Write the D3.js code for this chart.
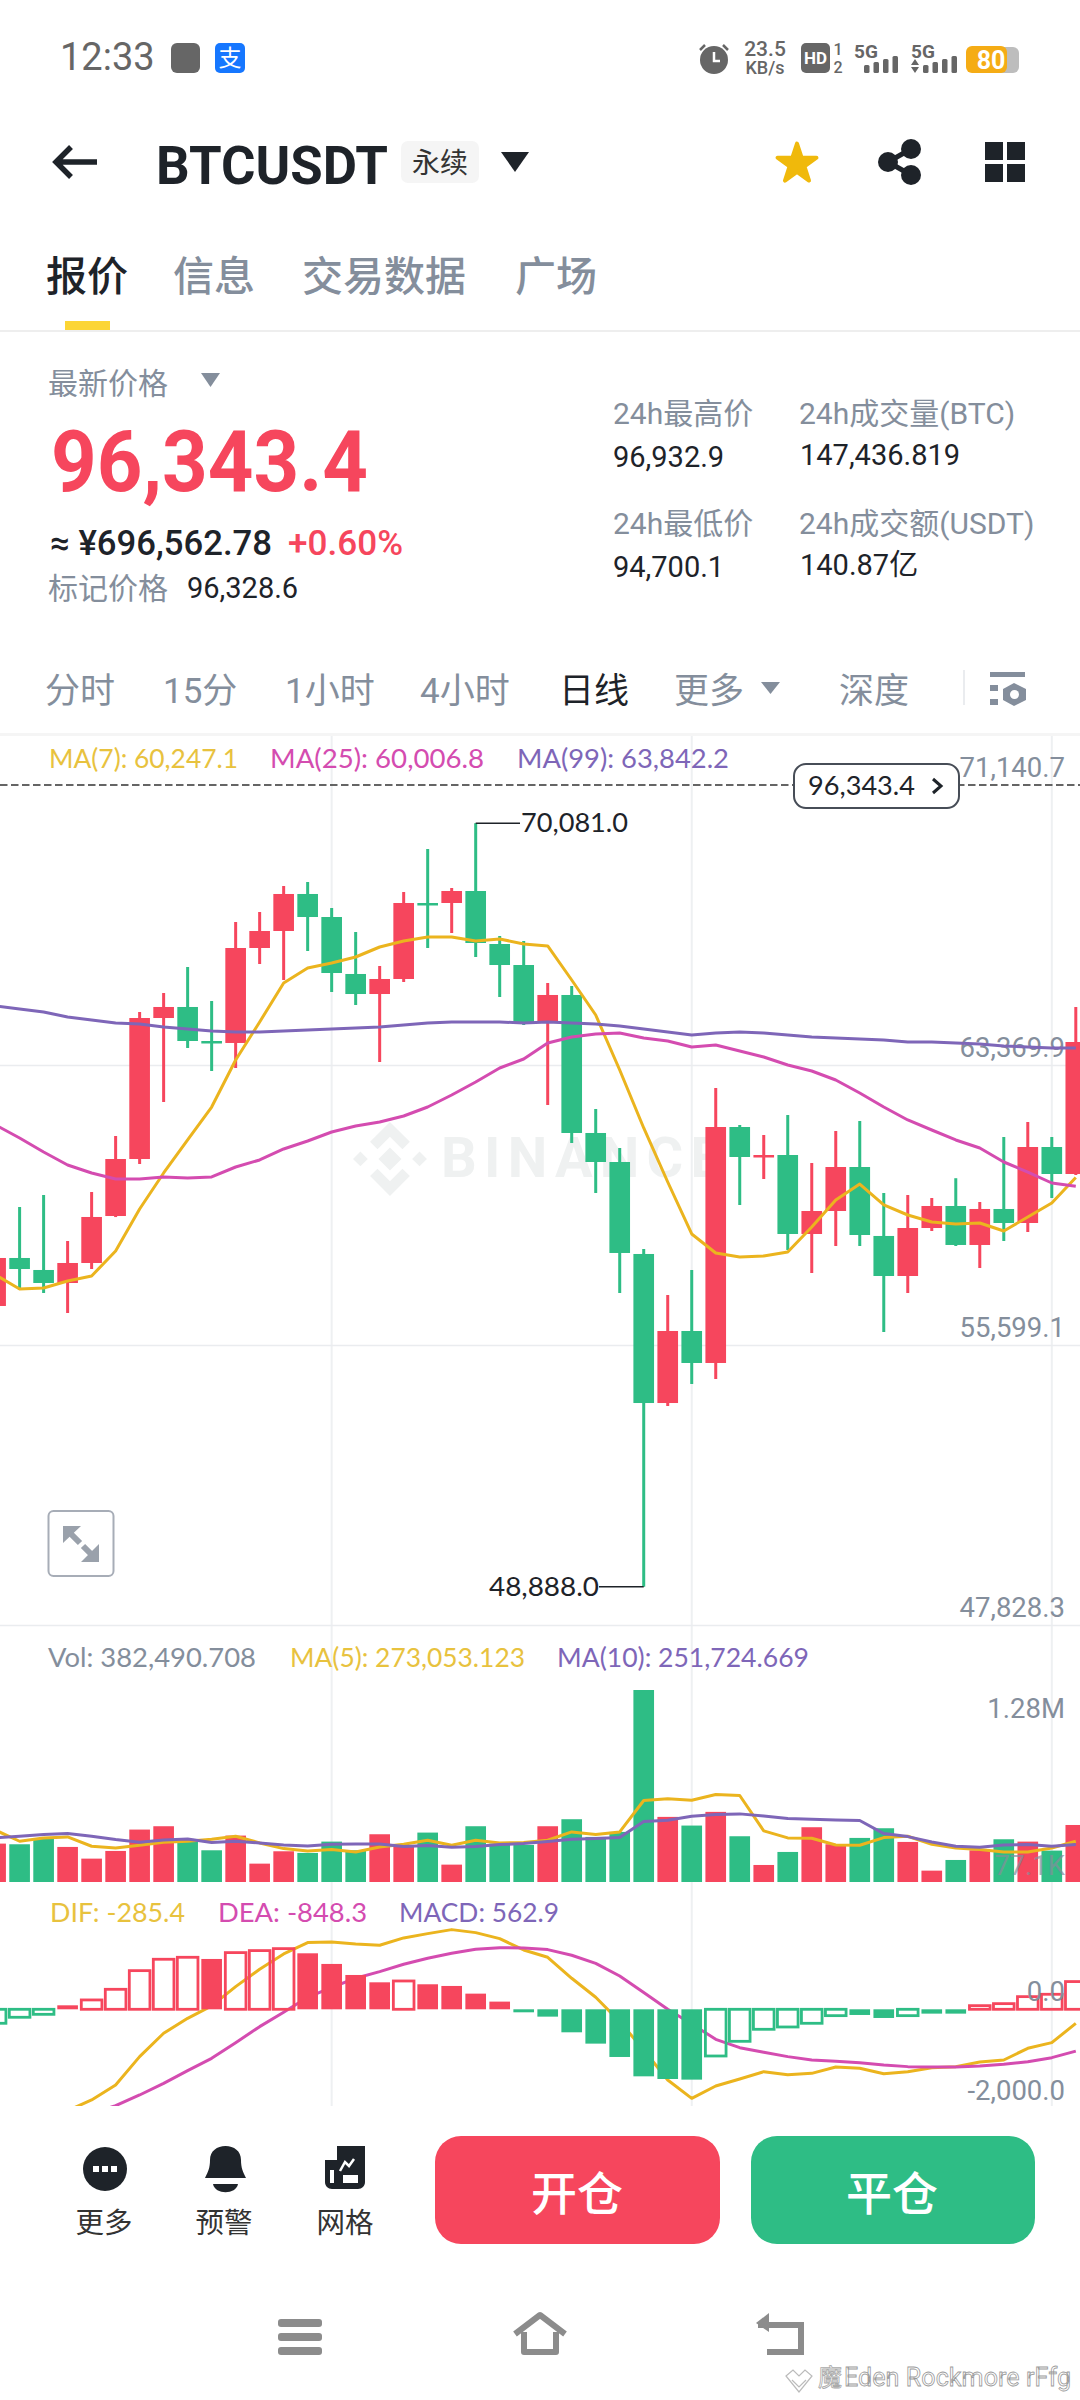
<!DOCTYPE html>
<html>
<head>
<meta charset="utf-8">
<title>BTCUSDT</title>
<script src="https://cdn.jsdelivr.net/npm/d3@7/dist/d3.min.js"></script>
<style>
  html, body { margin: 0; padding: 0; background: #fff; }
  svg { display: block; }
  text { font-family: Roboto, "Noto Sans CJK SC", sans-serif; }
  .chart-text { font-family: Lato, "Noto Sans CJK SC", sans-serif; }
</style>
</head>
<body>
<div id="chart"></div>
<script>
// Daily candles (oldest one is cut by the left edge)
const opens = [56682,58014,57681,57320,57875,59179,60761,64674,64980,64036,63981,66617,67089,68116,67477,65896,65340,65757,67866,67866,68199,66728,66145,64591,65313,61483,60678,58125,53989,55988,55100,61649,60817,60872,58680,59318,60539,58625,57514,58846,59457,58375,59374,58985,61094,60345];
const highs = [58014,59429,59762,58486,59845,61400,64841,65368,66090,65146,67339,67616,68338,68449,67727,67061,66118,68171,69365,68282,70081,66950,66811,65646,65563,62149,61067,58263,56987,57681,62732,61705,61427,61982,60650,61538,61816,59818,59762,59679,60228,59568,61372,61788,61372,64980];
const lows = [56682,57126,57042,56487,57708,59150,60623,62343,63842,63204,63287,66173,65729,66534,65396,65035,63453,65674,66617,67033,66367,65257,64480,62260,61205,59818,57042,48888,53906,54517,54656,59485,60206,58236,57597,58347,58347,55960,57042,58763,58347,57736,58486,58735,59679,60317];
const closes = [58014,57708,57320,57875,59152,60761,64674,64980,64036,63981,66617,67089,68116,67477,65923,65340,65757,67866,67811,68199,66756,66145,64563,65313,61483,60678,58153,53989,55988,55100,61649,60817,60872,58680,59318,60539,58652,57514,58846,59457,58375,59374,58985,61094,60345,64008];

// Price moving averages
const ma7 = [57542,57153,57181,57375,57514,58208,59374,60373,61289,62204,63509,64563,65646,66062,66201,66367,66645,66811,66922,66922,66811,66867,66728,66673,65729,64758,63231,61622,60123,58680,58153,58042,58069,58180,58874,59623,60067,59485,59207,59013,58957,58985,58763,59152,59540,60247.1];
const ma25 = [61705,61344,60955,60595,60373,60206,60206,60262,60234,60262,60539,60734,61039,61261,61511,61677,61788,61955,62204,62537,62898,63287,63537,63981,64147,64230,64258,64119,64036,63870,63925,63759,63592,63370,63204,62954,62593,62204,61844,61566,61289,61067,60678,60400,60095,60006.8];
const ma99 = [65007,64924,64841,64702,64619,64536,64508,64425,64369,64314,64286,64286,64314,64341,64369,64397,64425,64480,64536,64563,64563,64563,64536,64563,64536,64508,64452,64369,64286,64203,64258,64286,64258,64203,64147,64119,64092,64064,64008,64008,63981,63953,63897,63870,63842.2,63842.2];

// Volume panel
const volumes = [257600,253100,291200,235200,156800,208300,351700,374100,268800,212800,311400,123200,206100,194900,271000,212800,320300,235200,331500,116500,374100,257600,248600,374100,421100,302400,336000,1288000,436800,378600,470400,306900,114200,201600,367400,253100,295700,360600,268800,76200,147800,212800,286700,271000,210600,382490.708];
const volMa5 = [347200,273300,295700,302400,239700,228500,246400,266600,273300,286700,306900,262100,224000,208300,217300,201600,235200,253100,280000,246400,280000,262100,264300,280000,336000,318100,336000,546600,557800,548800,586900,580200,342700,295700,293400,248600,246400,297900,306900,253100,228500,217300,201600,201600,228500,273053.123];
const volMa10 = [295700,306900,318100,324800,306900,284500,266600,282200,289000,264300,273300,262100,248600,241900,253100,255400,255400,237400,244200,233000,237400,250900,257600,271000,286700,291200,297900,405400,414400,441300,452500,457000,443500,425600,421100,416600,412200,324800,304600,268800,239700,233000,248600,250900,239700,251724.669];

// MACD panel
const macdHist = [-284,-162,-102,81,190,406,785,1016,1056,1022,1151,1192,1232,1137,921,697,548,575,508,474,318,156,-61,-149,-467,-697,-968,-1361,-1415,-1428,-948,-650,-406,-359,-284,-129,-115,-176,-129,-88,-88,74,115,257,305,562.9];
const macdHollow = [1,1,1,0,1,1,1,1,1,0,1,1,1,0,0,0,0,1,0,0,0,0,0,0,0,0,0,0,0,0,1,1,1,1,1,1,0,0,1,0,0,1,1,1,1,1];
const dif = [-2654,-2485,-2281,-2058,-1841,-1537,-961,-487,-183,68,460,812,1124,1354,1368,1327,1300,1449,1537,1618,1557,1435,1205,1056,630,244,-250,-826,-1435,-1808,-1557,-1415,-1266,-1327,-1300,-1171,-1198,-1307,-1266,-1185,-1164,-1070,-1029,-792,-677,-285.4];
const dea = [-2654,-2518,-2383,-2248,-2112,-1957,-1740,-1503,-1246,-995,-677,-352,-61,244,447,630,765,914,1036,1137,1219,1252,1246,1212,1097,934,677,339,0,-298,-609,-779,-873,-961,-1029,-1056,-1083,-1131,-1164,-1171,-1171,-1151,-1117,-1063,-982,-848.3];

// Axis ticks
const priceTicks = [71140.7, 63369.9, 55599.1, 47828.3];
const volTicks = [1280000, 77100];
const volTickLabels = ['1.28M', '77.1K'];
const macdTicks = [0, -2000];
const gridCandles = [14, 29, 44];

const lastPrice = 96343.4;

// Page text
const tabs = [['报价', 46, true], ['信息', 173, false], ['交易数据', 302, false], ['广场', 515, false]];
const intervals = [['分时', 45], ['15分', 163], ['1小时', 285], ['4小时', 420], ['日线', 559], ['更多', 674], ['深度', 839]];

const RED = '#f6465d';
const GREEN = '#2ebd85';
const YELLOW = '#ebb41e';
const MAGENTA = '#d44cb0';
const PURPLE = '#7e66b8';
const GRAY = '#848e9c';
const DARK = '#1e2329';
const GRID = '#eef0f2';

const svg = d3.select('#chart').append('svg')
    .attr('width', 1080)
    .attr('height', 2400)
    .attr('viewBox', '0 0 1080 2400');

svg.append('rect').attr('width', 1080).attr('height', 2400).attr('fill', '#fff');

const fmtPrice = v => d3.format(',.1f')(v).replace('−', '-');
const fmtVol = d3.format(',.3f');

// Shared helper for plain text, y is the vertical centre of the line
function label(parent, x, y, str, size, color, opts = {}) {
    const t = parent.append('text')
        .attr('x', x)
        .attr('y', y)
        .attr('dy', '0.35em')
        .attr('font-size', size)
        .attr('fill', color)
        .attr('font-weight', opts.weight || 400)
        .attr('text-anchor', opts.anchor || 'start')
        .attr('class', opts.cls || null)
        .text(str);
    if (opts.len) {
        t.attr('textLength', opts.len).attr('lengthAdjust', 'spacingAndGlyphs');
    }
    return t;
}

drawStatusBar();
drawHeader();
drawPriceBlock();
drawIntervals();
drawCharts();
drawBottomBar();

// Phone status bar
function drawStatusBar() {
    const g = svg.append('g');
    label(g, 60, 57, '12:33', 38, '#666');
    g.append('rect').attr('x', 171).attr('y', 43).attr('width', 29).attr('height', 30).attr('rx', 6).attr('fill', '#666');
    g.append('rect').attr('x', 215).attr('y', 43).attr('width', 30).attr('height', 30).attr('rx', 5).attr('fill', '#1677ff');
    label(g, 230, 58, '支', 23, '#fff', { anchor: 'middle' });

    // Alarm clock
    g.append('circle').attr('cx', 714).attr('cy', 60).attr('r', 14).attr('fill', '#666');
    g.append('path').attr('d', 'M714 52V61H720').attr('stroke', '#fff').attr('stroke-width', 2.5).attr('fill', 'none');
    g.append('path').attr('d', 'M700 50L705 45M728 50L723 45').attr('stroke', '#666').attr('stroke-width', 2.5);

    label(g, 765, 49, '23.5', 21, '#666', { anchor: 'middle', weight: 500 });
    label(g, 765, 68, 'KB/s', 18, '#666', { anchor: 'middle', weight: 500 });

    g.append('rect').attr('x', 801).attr('y', 43).attr('width', 29).attr('height', 30).attr('rx', 5).attr('fill', '#666');
    label(g, 815.5, 58, 'HD', 17, '#fff', { anchor: 'middle', weight: 700 });
    label(g, 838, 49, '1', 16, '#666', { anchor: 'middle', weight: 500 });
    label(g, 838, 67, '2', 16, '#666', { anchor: 'middle', weight: 500 });

    // Two SIM signal meters
    [[854, 864], [911, 923]].forEach(([tx, bx]) => {
        label(g, tx, 51, '5G', 19, '#666', { weight: 700 });
        [8, 11, 14, 17].forEach((h, i) => {
            g.append('rect').attr('x', bx + i * 9.5).attr('y', 73 - h).attr('width', 5.5).attr('height', h).attr('rx', 1.5).attr('fill', '#666');
        });
    });
    g.append('path').attr('d', 'M911 65L915 59L919 65ZM911 67L915 73L919 67Z').attr('fill', '#666');

    // Battery
    g.append('rect').attr('x', 985).attr('y', 47).attr('width', 34).attr('height', 26).attr('rx', 6).attr('fill', '#bdbdbd');
    g.append('rect').attr('x', 966).attr('y', 46).attr('width', 41).attr('height', 27).attr('rx', 6).attr('fill', '#f5ac15');
    label(g, 991, 60, '80', 25, '#fff', { anchor: 'middle', weight: 700 });
}

// Symbol line and tab row
function drawHeader() {
    const g = svg.append('g');
    g.append('path').attr('d', 'M97 162H58M71 147L56 162L71 177')
        .attr('fill', 'none').attr('stroke', DARK).attr('stroke-width', 5.5);
    label(g, 156, 165, 'BTCUSDT', 53, DARK, { weight: 700, len: 232 });
    g.append('rect').attr('x', 401).attr('y', 141).attr('width', 78).attr('height', 42).attr('rx', 7).attr('fill', '#f5f5f5');
    label(g, 440, 163, '永续', 28, '#333', { anchor: 'middle' });
    g.append('path').attr('d', 'M501 152H529L515 172Z').attr('fill', DARK);

    // Favourite star
    g.append('path')
        .attr('transform', 'translate(797,164)')
        .attr('d', d3.symbol().type(d3.symbolStar).size(470)())
        .attr('fill', '#f0b90b').attr('stroke', '#f0b90b').attr('stroke-width', 4).attr('stroke-linejoin', 'round');

    // Share
    g.append('path').attr('d', 'M911 149L888 162L911 175').attr('fill', 'none').attr('stroke', DARK).attr('stroke-width', 5);
    [[911, 149], [888, 162], [911, 175]].forEach(([cx, cy]) => {
        g.append('circle').attr('cx', cx).attr('cy', cy).attr('r', 10).attr('fill', DARK);
    });

    // Layout squares
    [[985, 142], [1007, 142], [985, 164], [1007, 164]].forEach(([x, y]) => {
        g.append('rect').attr('x', x).attr('y', y).attr('width', 18).attr('height', 18).attr('fill', DARK);
    });

    tabs.forEach(([name, x, active]) => {
        label(g, x, 277, name, 41, active ? DARK : GRAY, { weight: 500 });
    });
    g.append('rect').attr('x', 65).attr('y', 321).attr('width', 45).attr('height', 9).attr('fill', '#fcd535');
    g.append('rect').attr('x', 0).attr('y', 330).attr('width', 1080).attr('height', 2).attr('fill', '#eeeeee');
}

// Latest price and 24h stats
function drawPriceBlock() {
    const g = svg.append('g');
    label(g, 48, 383, '最新价格', 30, GRAY);
    g.append('path').attr('d', 'M201 373H220L210.5 387Z').attr('fill', GRAY);
    label(g, 51, 461, fmtPrice(lastPrice), 85, RED, { weight: 700, len: 317 });
    label(g, 50, 543, '≈ ¥696,562.78', 35, DARK, { weight: 500, len: 222 });
    label(g, 288, 543, '+0.60%', 35, RED, { weight: 500, len: 115 });
    label(g, 48, 588, '标记价格', 30, GRAY);
    label(g, 187, 588, '96,328.6', 29, DARK);

    label(g, 613, 413, '24h最高价', 30, GRAY);
    label(g, 799, 413, '24h成交量(BTC)', 30, GRAY);
    label(g, 613, 457, '96,932.9', 29, DARK);
    label(g, 800, 455, '147,436.819', 29, DARK);
    label(g, 613, 523, '24h最低价', 30, GRAY);
    label(g, 799, 523, '24h成交额(USDT)', 30, GRAY);
    label(g, 613, 567, '94,700.1', 29, DARK);
    label(g, 800, 565, '140.87亿', 29, DARK);
}

// Interval selector
function drawIntervals() {
    const g = svg.append('g');
    intervals.forEach(([name, x]) => {
        label(g, x, 691, name, 35, name === '日线' ? DARK : GRAY);
    });
    g.append('path').attr('d', 'M761 682H780L770.5 694Z').attr('fill', GRAY);
    g.append('rect').attr('x', 963).attr('y', 670).attr('width', 2).attr('height', 35).attr('fill', '#eaecef');

    // Settings icon
    g.append('rect').attr('x', 990).attr('y', 672).attr('width', 35).attr('height', 5).attr('fill', GRAY);
    g.append('rect').attr('x', 990).attr('y', 685).attr('width', 8).attr('height', 6).attr('fill', GRAY);
    g.append('rect').attr('x', 990).attr('y', 699).attr('width', 8).attr('height', 6).attr('fill', GRAY);
    g.append('path').attr('d', 'M1014 683L1026 689V700L1014 706L1003 700V689Z').attr('fill', GRAY);
    g.append('circle').attr('cx', 1014.5).attr('cy', 694.5).attr('r', 4.5).attr('fill', '#fff');

    g.append('rect').attr('x', 0).attr('y', 733).attr('width', 1080).attr('height', 3).attr('fill', '#f5f5f5');
}

// The three stacked panels: candles, volume, MACD
function drawCharts() {
    const indexes = d3.range(closes.length);
    const x = d3.scaleBand()
        .domain(indexes)
        .range([-16.4, 1087.8])
        .paddingInner(0.14)
        .paddingOuter(0.07);
    const barW = x.bandwidth();
    const cx = i => x(i) + barW / 2;

    const yPrice = d3.scaleLinear().domain([47828.3, 71140.7]).range([1625, 785]);
    const yVol = d3.scaleLinear().domain([0, 1288000]).range([1882, 1690]);
    const yMacd = d3.scaleLinear().domain([-2000, 0]).range([2107.8, 2009.3]);

    const colorOf = i => (closes[i] >= opens[i] ? RED : GREEN);

    // Vertical grid through all panels
    svg.append('g').selectAll('line')
        .data(gridCandles)
        .join('line')
        .attr('x1', cx).attr('x2', cx)
        .attr('y1', 736).attr('y2', 2106)
        .attr('stroke', GRID).attr('stroke-width', 2);

    drawWatermark();

    // Price axis, tick lines act as the horizontal grid
    const priceAxis = svg.append('g')
        .attr('class', 'chart-text')
        .attr('transform', 'translate(1080,0)')
        .call(d3.axisLeft(yPrice).tickValues(priceTicks).tickSize(1080).tickFormat(fmtPrice));
    styleAxis(priceAxis);
    priceAxis.selectAll('.tick text').attr('dy', '-0.32em');
    priceAxis.selectAll('.tick line')
        .attr('stroke', d => (d === priceTicks[0] ? 'none' : '#eaecef'))
        .attr('stroke-width', 1.5);

    // Last price guide line
    svg.append('line')
        .attr('x1', 0).attr('x2', 1080)
        .attr('y1', yPrice(priceTicks[0])).attr('y2', yPrice(priceTicks[0]))
        .attr('stroke', '#333').attr('stroke-width', 1.5).attr('stroke-dasharray', '7.5 3.5');

    const lastBox = svg.append('g');
    lastBox.append('rect').attr('x', 794).attr('y', 764).attr('width', 165).attr('height', 44).attr('rx', 12)
        .attr('fill', '#fff').attr('stroke', '#474d57').attr('stroke-width', 2);
    label(lastBox, 808, 785, fmtPrice(lastPrice), 27.5, DARK, { cls: 'chart-text', len: 107 });
    lastBox.append('path').attr('d', 'M933 779L941 786L933 793').attr('fill', 'none').attr('stroke', DARK).attr('stroke-width', 3);

    // Candles
    const candles = svg.append('g').attr('class', 'candles');
    candles.selectAll('line')
        .data(indexes)
        .join('line')
        .attr('x1', cx).attr('x2', cx)
        .attr('y1', i => yPrice(highs[i]))
        .attr('y2', i => yPrice(lows[i]))
        .attr('stroke', colorOf)
        .attr('stroke-width', 3);
    candles.selectAll('rect')
        .data(indexes)
        .join('rect')
        .attr('x', i => x(i))
        .attr('width', barW)
        .attr('y', i => yPrice(Math.max(opens[i], closes[i])))
        .attr('height', i => Math.max(2.5, Math.abs(yPrice(opens[i]) - yPrice(closes[i]))))
        .attr('fill', colorOf);

    drawLine(svg, ma7, yPrice, cx, YELLOW);
    drawLine(svg, ma25, yPrice, cx, MAGENTA);
    drawLine(svg, ma99, yPrice, cx, PURPLE);

    // High and low markers
    const hiIdx = d3.maxIndex(highs);
    const loIdx = d3.minIndex(lows);
    const marks = svg.append('g');
    marks.append('line').attr('x1', cx(hiIdx)).attr('x2', 520)
        .attr('y1', yPrice(highs[hiIdx])).attr('y2', yPrice(highs[hiIdx]))
        .attr('stroke', DARK).attr('stroke-width', 1.5);
    label(marks, 521, yPrice(highs[hiIdx]) - 1, fmtPrice(highs[hiIdx]), 27.5, DARK, { cls: 'chart-text', len: 107 });
    marks.append('line').attr('x1', 599).attr('x2', cx(loIdx))
        .attr('y1', yPrice(lows[loIdx])).attr('y2', yPrice(lows[loIdx]))
        .attr('stroke', DARK).attr('stroke-width', 1.5);
    label(marks, 489, yPrice(lows[loIdx]), fmtPrice(lows[loIdx]), 27.5, DARK, { cls: 'chart-text', len: 110 });

    legend(758, [
        ['MA(7): ' + fmtPrice(ma7[45]), 49, '#e8c23e', 189],
        ['MA(25): ' + fmtPrice(ma25[45]), 270, MAGENTA, 214],
        ['MA(99): ' + fmtPrice(ma99[45]), 517, PURPLE, 212]
    ]);

    drawExpandButton();

    // Volume bars
    svg.append('g').selectAll('rect')
        .data(indexes)
        .join('rect')
        .attr('x', i => x(i))
        .attr('width', barW)
        .attr('y', i => yVol(volumes[i]))
        .attr('height', i => yVol(0) - yVol(volumes[i]))
        .attr('fill', colorOf);
    drawLine(svg, volMa5, yVol, cx, YELLOW);
    drawLine(svg, volMa10, yVol, cx, PURPLE);

    const volAxis = svg.append('g')
        .attr('class', 'chart-text')
        .attr('transform', 'translate(1080,0)')
        .call(d3.axisLeft(yVol).tickValues(volTicks).tickSize(0).tickFormat((d, i) => volTickLabels[i]));
    styleAxis(volAxis);
    volAxis.selectAll('.tick text')
        .attr('dy', d => (d === volTicks[0] ? '0.95em' : '0.15em'))
        .attr('opacity', d => (d === volTicks[0] ? 1 : 0.7));

    legend(1657, [
        ['Vol: ' + fmtVol(volumes[45]), 48, GRAY, 208],
        ['MA(5): ' + fmtVol(volMa5[45]), 290, '#e8c23e', 235],
        ['MA(10): ' + fmtVol(volMa10[45]), 557, PURPLE, 252]
    ]);

    // MACD, clipped at the toolbar
    svg.append('clipPath').attr('id', 'macd-clip')
        .append('rect').attr('x', 0).attr('y', 1925).attr('width', 1080).attr('height', 181);
    const macd = svg.append('g').attr('clip-path', 'url(#macd-clip)');
    drawLine(macd, dif, yMacd, cx, YELLOW);
    drawLine(macd, dea, yMacd, cx, MAGENTA);

    const histColor = i => (macdHist[i] >= 0 ? RED : GREEN);
    macd.append('g').selectAll('rect')
        .data(indexes)
        .join('rect')
        .attr('x', i => x(i))
        .attr('width', barW)
        .attr('y', i => Math.min(yMacd(macdHist[i]), yMacd(0)))
        .attr('height', i => Math.abs(yMacd(macdHist[i]) - yMacd(0)))
        .attr('fill', i => (macdHollow[i] ? 'none' : histColor(i)))
        .attr('stroke', i => (macdHollow[i] ? histColor(i) : 'none'))
        .attr('stroke-width', 2.8);

    const macdAxis = svg.append('g')
        .attr('class', 'chart-text')
        .attr('transform', 'translate(1080,0)')
        .call(d3.axisLeft(yMacd).tickValues(macdTicks).tickSize(0).tickFormat(fmtPrice));
    styleAxis(macdAxis);
    macdAxis.selectAll('.tick text').attr('dy', '-0.32em');

    legend(1912, [
        ['DIF: ' + fmtPrice(dif[45]), 50, '#e8c23e', 135],
        ['DEA: ' + fmtPrice(dea[45]), 218, MAGENTA, 149],
        ['MACD: ' + fmtPrice(macdHist[45]), 399, PURPLE, 160]
    ]);
}

// Shared look for the right hand axis labels
function styleAxis(axis) {
    axis.select('.domain').remove();
    axis.selectAll('.tick text')
        .attr('x', -15)
        .attr('text-anchor', 'end')
        .attr('font-size', 27.5)
        .attr('font-family', 'Lato, sans-serif')
        .attr('fill', GRAY);
}

function drawLine(parent, values, y, cx, color) {
    const line = d3.line().x((d, i) => cx(i)).y(d => y(d));
    parent.append('path')
        .attr('d', line(values))
        .attr('fill', 'none')
        .attr('stroke', color)
        .attr('stroke-width', 3)
        .attr('stroke-linejoin', 'round');
}

function legend(y, items) {
    const g = svg.append('g');
    items.forEach(([str, x, color, len]) => label(g, x, y, str, 27.5, color, { cls: 'chart-text', len }));
}

// Faint logo behind the candles
function drawWatermark() {
    const g = svg.append('g').attr('fill', '#eff1f1');
    const mark = g.append('g').attr('transform', 'translate(353,1122) scale(2.31)');
    ['16,0 24.6,8.6 21.4,11.8 16,6.4 10.6,11.8 7.4,8.6',
     '16,32 24.6,23.4 21.4,20.2 16,25.6 10.6,20.2 7.4,23.4',
     '0,16 3.2,12.8 6.4,16 3.2,19.2',
     '25.6,16 28.8,12.8 32,16 28.8,19.2',
     '16,11 21,16 16,21 11,16'].forEach(p => mark.append('polygon').attr('points', p));
    g.append('text')
        .attr('x', 441).attr('y', 1177)
        .attr('font-size', 56).attr('font-weight', 700)
        .attr('textLength', 281)
        .text('BINANCE');
}

function drawExpandButton() {
    const g = svg.append('g');
    g.append('rect').attr('x', 48.5).attr('y', 1511).attr('width', 65).attr('height', 65).attr('rx', 5)
        .attr('fill', '#fff').attr('stroke', '#a7adb7').attr('stroke-width', 2);
    g.append('path').attr('d', 'M63 1526H81L63 1543ZM99 1562H81L99 1544Z').attr('fill', '#9aa1ab');
    g.append('path').attr('d', 'M70 1533L80 1543M83 1546L92 1555').attr('stroke', '#9aa1ab').attr('stroke-width', 6);
}

// Toolbar, action buttons and phone navigation
function drawBottomBar() {
    const g = svg.append('g');

    g.append('circle').attr('cx', 105).attr('cy', 2169).attr('r', 22).attr('fill', DARK);
    [93, 102, 111].forEach(x => {
        g.append('rect').attr('x', x).attr('y', 2166).attr('width', 6).attr('height', 6).attr('fill', '#fff');
    });
    label(g, 104, 2223, '更多', 28.5, '#333', { anchor: 'middle' });

    g.append('path').attr('d', 'M205 2178C208 2172 210 2168 210 2160C210 2151 217 2146 225.5 2146C234 2146 241 2151 241 2160C241 2168 243 2172 246 2178Z').attr('fill', DARK);
    g.append('path').attr('d', 'M213 2184H238C236 2195 215 2195 213 2184Z').attr('fill', DARK);
    label(g, 224, 2223, '预警', 28.5, '#333', { anchor: 'middle' });

    g.append('path').attr('d', 'M337 2146H365V2182C365 2186 362 2189 358 2189H332C328 2189 325 2186 325 2182V2160H337Z').attr('fill', DARK);
    g.append('path').attr('d', 'M340 2171L345 2162L349 2166L354 2159').attr('fill', 'none').attr('stroke', '#fff').attr('stroke-width', 2.5);
    g.append('rect').attr('x', 330).attr('y', 2170).attr('width', 4).attr('height', 13).attr('fill', '#fff');
    g.append('rect').attr('x', 343).attr('y', 2175).attr('width', 15).attr('height', 8).attr('fill', '#fff');
    label(g, 345, 2223, '网格', 28.5, '#333', { anchor: 'middle' });

    g.append('rect').attr('x', 435).attr('y', 2136).attr('width', 285).attr('height', 108).attr('rx', 26).attr('fill', RED);
    label(g, 577, 2194, '开仓', 46, '#fff', { anchor: 'middle', weight: 500 });
    g.append('rect').attr('x', 751).attr('y', 2136).attr('width', 284).attr('height', 108).attr('rx', 26).attr('fill', GREEN);
    label(g, 892, 2194, '平仓', 46, '#fff', { anchor: 'middle', weight: 500 });

    // Phone navigation keys
    [2319, 2333, 2347].forEach(y => {
        g.append('rect').attr('x', 278).attr('y', y).attr('width', 44).attr('height', 8).attr('rx', 3).attr('fill', '#8c8c8c');
    });
    g.append('path').attr('d', 'M515 2334L540 2315L565 2334M524 2332V2352H556V2332')
        .attr('fill', 'none').attr('stroke', '#8c8c8c').attr('stroke-width', 6).attr('stroke-linejoin', 'round');
    g.append('path').attr('d', 'M758 2325H801V2352H767').attr('fill', 'none').attr('stroke', '#8c8c8c').attr('stroke-width', 6);
    g.append('path').attr('d', 'M756 2323L769 2313V2332Z').attr('fill', '#8c8c8c');

    // Reposted-by watermark
    g.append('path').attr('d', 'M786 2376L793 2370L799 2376L805 2370L812 2376L799 2392ZM792 2380L799 2387L806 2380')
        .attr('fill', 'none').attr('stroke', '#bbb').attr('stroke-width', 1.2);
    g.append('text').attr('x', 818).attr('y', 2386)
        .attr('font-size', 24)
        .attr('fill', '#fff')
        .attr('stroke', '#aaa')
        .attr('stroke-width', 0.8)
        .text('魔');
    g.append('text').attr('x', 844).attr('y', 2386)
        .attr('font-size', 25)
        .attr('font-family', 'Lato, sans-serif')
        .attr('fill', '#fff')
        .attr('stroke', '#9a9a9a')
        .attr('stroke-width', 0.8)
        .attr('textLength', 227)
        .text('Eden Rockmore rFfg');
}
</script>
</body>
</html>
